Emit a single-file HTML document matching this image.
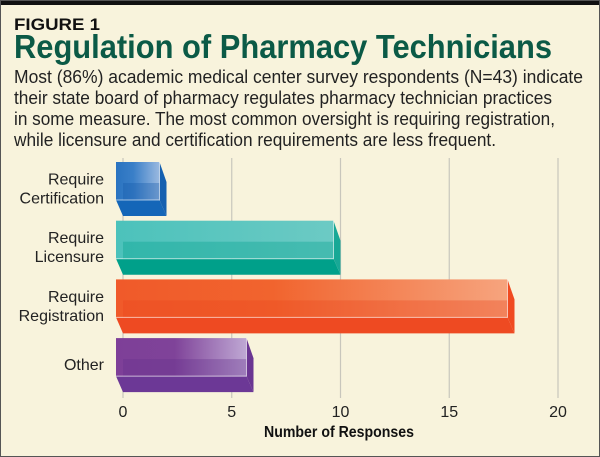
<!DOCTYPE html>
<html><head><meta charset="utf-8"><style>
html,body{margin:0;padding:0;background:#f8f3dc;}
svg{display:block;font-family:"Liberation Sans",Arial,sans-serif;}
</style></head><body>
<svg id="chart" width="600" height="457" viewBox="0 0 600 457" xmlns="http://www.w3.org/2000/svg">
<defs>
<linearGradient id="gCert" x1="0" x2="1"><stop offset="0" stop-color="#2a73c0"/><stop offset="0.4" stop-color="#3a7fc8"/><stop offset="1" stop-color="#9ab9e0"/></linearGradient>
<linearGradient id="gLic" x1="0" x2="1"><stop offset="0" stop-color="#4cc2bb"/><stop offset="1" stop-color="#6ccac4"/></linearGradient>
<linearGradient id="gReg" x1="0" x2="1"><stop offset="0" stop-color="#f05a2a"/><stop offset="0.4" stop-color="#f1642e"/><stop offset="1" stop-color="#f6a47e"/></linearGradient>
<linearGradient id="gOth" x1="0" x2="1"><stop offset="0" stop-color="#7e3f98"/><stop offset="0.45" stop-color="#7f4399"/><stop offset="1" stop-color="#bfa8d4"/></linearGradient>
</defs>
<rect x="0" y="0" width="600" height="457" fill="#f8f3dc"/>
<rect x="0" y="0" width="600" height="5" fill="#111"/>
<rect x="0.5" y="0.5" width="599" height="456" fill="none" stroke="#555" stroke-width="1"/>
<text x="14" y="30" font-size="17" font-weight="bold" fill="#111" textLength="86" lengthAdjust="spacingAndGlyphs">FIGURE 1</text>
<text x="14" y="58" font-size="33" font-weight="bold" fill="#0b5a46" textLength="538" lengthAdjust="spacingAndGlyphs">Regulation of Pharmacy Technicians</text>
<g font-size="18" fill="#222">
<text x="14" y="83" textLength="569" lengthAdjust="spacingAndGlyphs">Most (86%) academic medical center survey respondents (N=43) indicate</text>
<text x="14" y="104" textLength="538" lengthAdjust="spacingAndGlyphs">their state board of pharmacy regulates pharmacy technician practices</text>
<text x="14" y="125" textLength="541" lengthAdjust="spacingAndGlyphs">in some measure. The most common oversight is requiring registration,</text>
<text x="14" y="146" textLength="482" lengthAdjust="spacingAndGlyphs">while licensure and certification requirements are less frequent.</text>
</g>
<g id="grid"></g><g id="bars"></g><g id="labels"></g><g id="ticks"></g>
<text x="339" y="437" text-anchor="middle" font-size="16" font-weight="bold" fill="#111" textLength="150" lengthAdjust="spacingAndGlyphs">Number of Responses</text>
</svg>
<script>
const categories = [["Require","Certification"],["Require","Licensure"],["Require","Registration"],["Other"]];
const values = [2, 10, 18, 6];
const ticks = [0, 5, 10, 15, 20];
const NS = "http://www.w3.org/2000/svg";
const x0 = 123, pxPer = 21.75;
function xs(v){ return x0 + v * pxPer; }
function yTop(i){ return 162 + i * 58.7; }
const grads = ["url(#gCert)","url(#gLic)","url(#gReg)","url(#gOth)"];
const bottoms = ["#1466b8","#00a08a","#ee4a22","#6c3896"];
const sides = ["#1560b0","#18a896","#f04a20","#6a3592"];
const mids = ["rgba(20,90,170,0.35)","rgba(0,160,140,0.35)","rgba(235,70,30,0.35)","rgba(100,50,140,0.35)"];
function mk(tag, attrs, parent){ const e=document.createElementNS(NS,tag); for(const k in attrs) e.setAttribute(k,attrs[k]); parent.appendChild(e); return e; }
const grid=document.getElementById('grid'), bars=document.getElementById('bars'), labels=document.getElementById('labels'), tk=document.getElementById('ticks');
ticks.forEach(t=>{
  const l=mk('line',{x1:xs(t),x2:xs(t),y1:158,y2:398,stroke:'#c8c6bc','stroke-width':1.2},grid);
  
  
  const tx=mk('text',{x:xs(t),y:417,'text-anchor':'middle','font-size':16,fill:'#222'},tk);
  tx.textContent=t;
  
  
});
values.forEach((v,i)=>{
  const t=yTop(i), xe=xs(v), L=116, H=38, D=54;
  const g=mk('g',{},bars);
  
  
  mk('polygon',{points:`${L},${t+H} ${xe-7},${t+H} ${xe},${t+D} ${L+7},${t+D}`,fill:bottoms[i]},g);
  mk('polygon',{points:`${xe-7},${t} ${xe},${t+20} ${xe},${t+D} ${xe-7},${t+H}`,fill:sides[i]},g);
  mk('rect',{x:L,y:t,width:xe-7-L,height:H,fill:grads[i]},g);
  mk('rect',{x:L+7,y:t+21,width:xe-14-L,height:17,fill:mids[i]},g);
  mk('polyline',{points:`${L},${t+H} ${xe-7},${t+H} ${xe-7},${t}`,fill:'none',stroke:'rgba(255,255,255,0.6)','stroke-width':1},g);
  const lines=categories[i], cy=t+27;
  lines.forEach((s,j)=>{
    const y = cy + (j - (lines.length-1)/2)*19 + 5;
    const tx=mk('text',{x:104,y:y,'text-anchor':'end','font-size':16,fill:'#222'},labels);
    tx.textContent=s;
    
    
  });
});
</script>
</body></html>
